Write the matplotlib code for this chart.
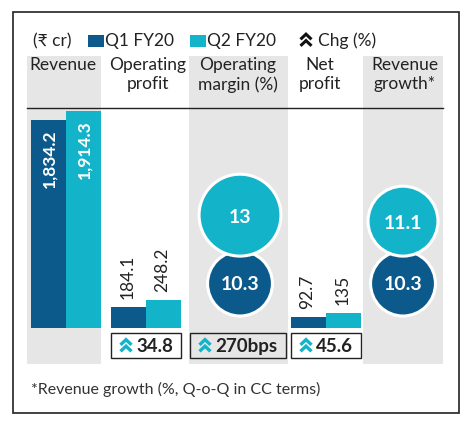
import matplotlib
matplotlib.use("Agg")
import matplotlib.pyplot as plt
from matplotlib.patches import Rectangle, Circle

# ---- data ----
columns = ["Revenue", "Operating\nprofit", "Operating\nmargin (%)", "Net\nprofit", "Revenue\ngrowth*"]
series = ["Q1 FY20", "Q2 FY20"]
bar_q1 = [1834.2, 184.1, 92.7]          # Revenue, Operating profit, Net profit
bar_q2 = [1914.3, 248.2, 135.0]
bar_labels_q1 = ["1,834.2", "184.1", "92.7"]
bar_labels_q2 = ["1,914.3", "248.2", "135"]
circle_q1 = [10.3, 10.3]                 # Operating margin, Revenue growth
circle_q2 = [13.0, 11.1]
circle_labels_q1 = ["10.3", "10.3"]
circle_labels_q2 = ["13", "11.1"]
chg_labels = ["34.8", "270bps", "45.6"]  # Operating profit, Operating margin, Net profit
footnote = "*Revenue growth (%, Q-o-Q in CC terms)"

DARK = "#0b5a8b"
CYAN = "#13b4ca"
GREY = "#e6e6e6"
TXT = "#222222"
FONT = ["Lato", "DejaVu Sans"]

W, H = 475, 424
fig = plt.figure(figsize=(W / 100, H / 100), dpi=100)
ax = fig.add_axes([0, 0, 1, 1])
ax.set_xlim(0, W)
ax.set_ylim(H, 0)
ax.axis("off")

# frame
ax.add_patch(Rectangle((13, 12), 446, 401, fill=False, ec="#222222", lw=1.2))

# column layout
col_left = [27, 101, 189, 288, 363]
col_right = [101, 189, 288, 363, 443]
grey_cols = [0, 2, 4]
for i in grey_cols:
    ax.add_patch(Rectangle((col_left[i], 56), col_right[i] - col_left[i], 308,
                           fc=GREY, ec="none", zorder=0))
ax.plot([27, 443], [108, 108], color="#222222", lw=1.0, zorder=2)

# headers
head_x = [63, 148, 238, 320, 405]
for i, name in enumerate(columns):
    ax.text(head_x[i], 57, name, ha="center", va="top", fontsize=12.5,
            color=TXT, family=FONT, linespacing=1.25)

# legend
ax.text(33, 41, "(\u20b9 cr)", ha="left", va="center", fontsize=12.5, color=TXT, family=FONT)
ax.add_patch(Rectangle((88, 35), 16, 12, fc=DARK, ec="none"))
ax.text(105, 41, series[0], ha="left", va="center", fontsize=12.5, color=TXT, family=FONT)
ax.add_patch(Rectangle((190, 35), 16, 12, fc=CYAN, ec="none"))
ax.text(207, 41, series[1], ha="left", va="center", fontsize=12.5, color=TXT, family=FONT)


def chevrons(cx, cy, w, h, color, lw=2.2):
    # two stacked up-pointing chevrons centred at (cx, cy)
    for dy in (-h * 0.25, h * 0.25):
        ax.plot([cx - w / 2, cx, cx + w / 2],
                [cy + dy + h * 0.2, cy + dy - h * 0.2, cy + dy + h * 0.2],
                color=color, lw=lw, solid_capstyle="butt", solid_joinstyle="miter", zorder=5)


chevrons(306, 40, 11, 13, "#111111", lw=2.2)
ax.text(318, 41, "Chg (%)", ha="left", va="center", fontsize=12.5, color=TXT, family=FONT)

# bars
base = 328
scale = 0.1135
bar_cols = [0, 1, 3]
bar_x = [31, 111, 291]
bw = 35
for k, c in enumerate(bar_cols):
    for j, (vals, labs, col) in enumerate(((bar_q1, bar_labels_q1, DARK), (bar_q2, bar_labels_q2, CYAN))):
        x0 = bar_x[k] + j * bw
        h = vals[k] * scale
        ax.bar(x0, -h, bottom=base, width=bw, align="edge", color=col, zorder=3)
        top = base - h
        if k == 0:
            ax.text(x0 + bw / 2 + 1, top + 10, labs[k], rotation=90, ha="center", va="top",
                    fontsize=12.5, fontweight="bold", color="white", family=FONT, zorder=4)
        else:
            ax.text(x0 + bw / 2 - 1, top - 8, labs[k], rotation=90, ha="center", va="bottom",
                    fontsize=12.5, color=TXT, family=FONT, zorder=4)

# circles
circ_cx = [240, 403]
rk = 3.15
bottom_edge = 316
for k in range(2):
    r1 = circle_q1[k] * rk
    r2 = circle_q2[k] * rk
    cy1 = bottom_edge - r1
    cy2 = cy1 - r1 - r2 + 5
    ax.add_patch(Circle((circ_cx[k], cy1), r1, fc=DARK, ec="white", lw=2.2, zorder=3))
    ax.add_patch(Circle((circ_cx[k], cy2), r2, fc=CYAN, ec="white", lw=2.2, zorder=4))
    ax.text(circ_cx[k], cy1 + 1, circle_labels_q1[k], ha="center", va="center", fontsize=14,
            fontweight="bold", color="white", family=FONT, zorder=5)
    ax.text(circ_cx[k], cy2 + 2, circle_labels_q2[k], ha="center", va="center", fontsize=14,
            fontweight="bold", color="white", family=FONT, zorder=5)

# change boxes
box_l = [111, 190, 291]
box_r = [181, 286, 361]
box_fc = ["white", GREY, "white"]
for k in range(3):
    ax.add_patch(Rectangle((box_l[k], 333), box_r[k] - box_l[k], 25, fc=box_fc[k],
                           ec="#222222", lw=1.0, zorder=3))
    chevrons(box_l[k] + 15, 345.5, 11, 13, CYAN, lw=2.4)
    ax.text(box_l[k] + 25, 346.5, chg_labels[k], ha="left", va="center", fontsize=13.5,
            fontweight="bold", color=TXT, family=FONT, zorder=5)

# footnote
ax.text(31, 389, footnote, ha="left", va="center", fontsize=11.5, color="#333333",
        family=FONT)

fig.savefig("out.png", dpi=100)
